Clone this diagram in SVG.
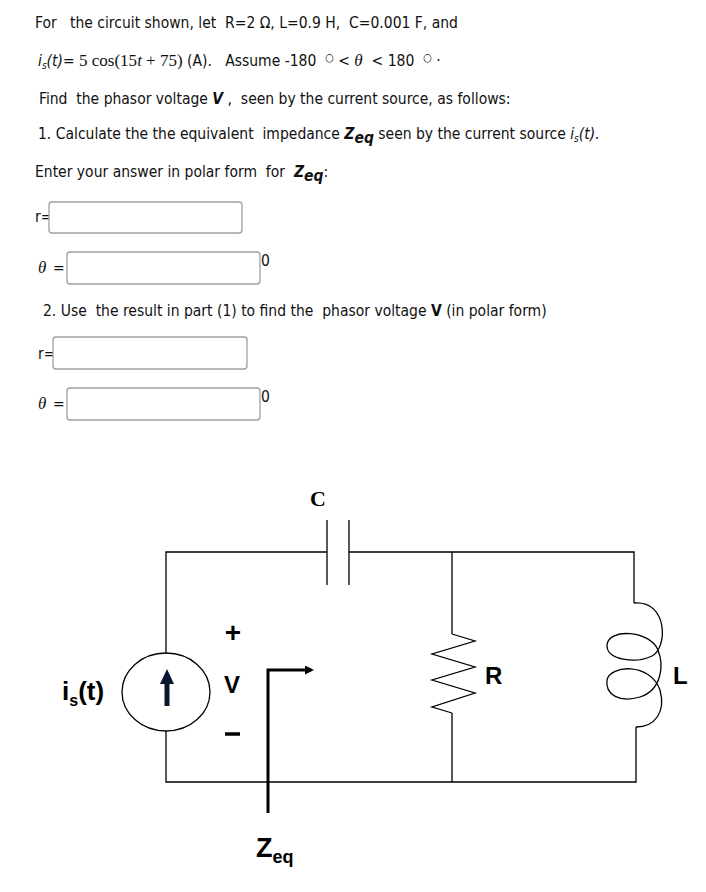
<svg xmlns="http://www.w3.org/2000/svg" width="706" height="892" viewBox="0 0 706 892">
<style>
.t{font-family:"DejaVu Sans Condensed","DejaVu Sans",sans-serif;font-size:15.5px;fill:#111;white-space:pre}
.s{font-family:"Liberation Serif",serif;font-size:17px;fill:#111}
.box{fill:#fff;stroke:#a0a0a0;stroke-width:1.3}
.w{fill:none;stroke:#000;stroke-width:1.3}
.lb{font-family:"Liberation Sans",sans-serif;font-weight:bold;fill:#000}
</style>
<defs><marker id="ah" markerWidth="9" markerHeight="9" refX="6" refY="4.5" orient="auto" markerUnits="userSpaceOnUse"><path d="M0,0 L9,4.5 L0,9 z" fill="#000"/></marker></defs>
<rect width="706" height="892" fill="#fff"/>
<g id="text">
<text class="t" x="35" y="28">For   the circuit shown, let  R=2 Ω, L=0.9 H,  C=0.001 F, and</text>
<text class="t" x="38" y="66"><tspan font-style="italic">i<tspan font-size="10" dy="3">s</tspan><tspan dy="-3">(t)</tspan></tspan>= <tspan class="s" font-family="Liberation Serif">5 cos(15<tspan font-style="italic">t</tspan> + 75)</tspan> (A).   Assume -180  <tspan dy="-5" font-size="11">○</tspan><tspan dy="5"> &lt; </tspan><tspan font-family="Liberation Serif" font-style="italic" font-size="17">θ</tspan>  &lt; 180  <tspan dy="-5" font-size="11">○</tspan><tspan dy="5"> ·</tspan></text>
<text class="t" x="39" y="104">Find  the phasor voltage <tspan font-weight="bold" font-style="italic">V</tspan> ,  seen by the current source, as follows:</text>
<text class="t" x="38" y="139">1. Calculate the the equivalent  impedance <tspan font-weight="bold" font-style="italic">Z<tspan dy="4">eq</tspan></tspan><tspan dy="-4"> seen by the current source </tspan><tspan font-style="italic">i<tspan font-size="10" dy="3">s</tspan><tspan dy="-3">(t).</tspan></tspan></text>
<text class="t" x="35" y="177">Enter your answer in polar form  for  <tspan font-weight="bold" font-style="italic">Z<tspan dy="4">eq</tspan></tspan><tspan dy="-4">:</tspan></text>
<text class="t" x="43" y="316">2. Use  the result in part (1) to find the  phasor voltage <tspan font-weight="bold">V</tspan> (in polar form)</text>
</g>
<g id="inputs">
<text class="t" x="35" y="222" font-size="12">r=</text>
<rect class="box" x="49" y="202" width="193" height="31" rx="3"/>
<text class="s" x="38" y="273" font-style="italic" font-size="17">θ</text><text class="t" x="53" y="273" font-size="12">=</text>
<rect class="box" x="67" y="252" width="193" height="32" rx="3"/>
<text class="t" x="261" y="266" font-size="11">0</text>
<text class="t" x="38" y="359" font-size="12">r=</text>
<rect class="box" x="53" y="337" width="194" height="32" rx="3"/>
<text class="s" x="38" y="409" font-style="italic" font-size="17">θ</text><text class="t" x="53" y="409" font-size="12">=</text>
<rect class="box" x="67" y="388" width="193" height="32" rx="3"/>
<text class="t" x="261" y="402" font-size="11">0</text>
</g>
<g id="connectors">
<path class="w" d="M166,653 V552 H327 M349,552 H634 V603 M166,731 V782 H636 V727 M452,552 V634 M452,713 V782"/>
</g>
<g id="capacitor">
<path class="w" d="M327,520 V585 M349,520 V585"/>
<text x="318" y="506" font-family="Liberation Serif" font-weight="bold" font-size="22" text-anchor="middle">C</text>
</g>
<g id="resistor">
<path class="w" d="M452,634 L475,641 L432,654 L475,667 L432,680 L475,693 L432,707 L452,713"/>
<text class="lb" x="485" y="684" font-size="24">R</text>
</g>
<g id="inductor">
<path class="w" d="M634,603 C668,600 668,648 652,656 C636,664 606,660 607,645 C608,628 650,630 658,650 C664,665 662,690 640,697 C620,703 605,695 607,680 C610,665 650,662 660,690 C666,712 655,727 636,727"/>
<text class="lb" x="673" y="684" font-size="24">L</text>
</g>
<g id="source">
<ellipse cx="166" cy="692" rx="44" ry="39" fill="#fff" stroke="#000" stroke-width="1.3"/>
<path d="M167,706 V682" stroke="#0a1530" stroke-width="5"/>
<path d="M160,684 L167,669 L174,684 z" fill="#0a1530"/>
<text class="lb" x="62" y="700" font-size="26">i<tspan font-size="16" dy="6">s</tspan><tspan dy="-6">(t)</tspan></text>
</g>
<g id="voltage">
<text class="lb" x="233" y="642" font-size="28" text-anchor="middle">+</text>
<text class="lb" x="232" y="693" font-size="24" text-anchor="middle">V</text>
<path d="M225,734 H240" stroke="#000" stroke-width="3.5"/>
</g>
<g id="zeq">
<path d="M268,813 V670 H311" fill="none" stroke="#000" stroke-width="3" marker-end="url(#ah)"/>
<text class="lb" x="256" y="857" font-size="27">Z<tspan font-size="18" dy="6">eq</tspan></text>
</g>
</svg>
